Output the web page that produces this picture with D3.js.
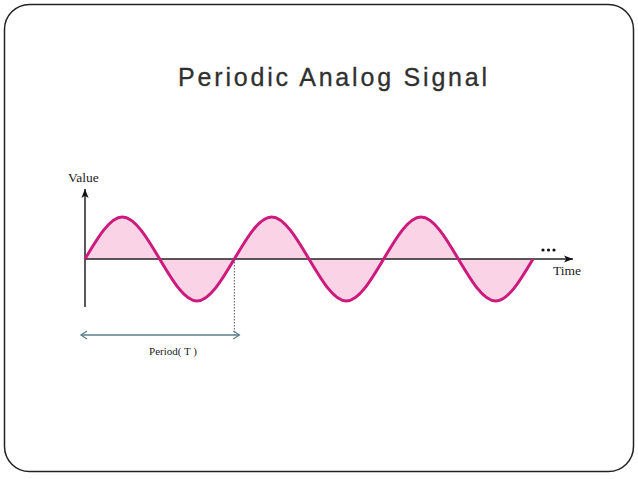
<!DOCTYPE html>
<html>
<head>
<meta charset="utf-8">
<script src="https://cdn.jsdelivr.net/npm/d3@7"></script>
<style>
  html, body { margin: 0; padding: 0; background: #fff; }
  svg { display: block; }
</style>
</head>
<body>
<svg width="638" height="479"></svg>
<script>
// signal sampled every quarter period (t in units of T/4)
var quarterTimes = [0, 1, 2, 3, 4, 5, 6, 7, 8, 9, 10, 11, 12];
var signalValues = [0, 1, 0, -1, 0, 1, 0, -1, 0, 1, 0, -1, 0];
var titleText = "Periodic Analog Signal";
var axisLabels = ["Value", "Time"];
var periodLabel = "Period( T )";

var svg = d3.select("svg"),
    width = +svg.attr("width"),
    height = +svg.attr("height");

// slide frame
svg.append("rect")
    .attr("x", 4.5).attr("y", 4.5)
    .attr("width", 629).attr("height", 467)
    .attr("rx", 25).attr("ry", 25)
    .attr("fill", "#fff")
    .attr("stroke", "#222")
    .attr("stroke-width", 1.5);

svg.append("text")
    .attr("x", 334).attr("y", 86)
    .attr("text-anchor", "middle")
    .attr("font-family", "'Liberation Sans', Arial, sans-serif")
    .attr("font-size", 25)
    .attr("letter-spacing", "2.8px")
    .attr("fill", "#303030")
    .attr("stroke", "#303030")
    .attr("stroke-width", 0.3)
    .text(titleText);

var x = d3.scaleLinear().domain([0, 12]).range([85, 533]);
var y = d3.scaleLinear().domain([-1, 1]).range([301, 217]);

var defs = svg.append("defs");
defs.append("marker")
    .attr("id", "arrow")
    .attr("viewBox", "0 0 10 10")
    .attr("refX", 10).attr("refY", 5)
    .attr("markerWidth", 9).attr("markerHeight", 9)
    .attr("markerUnits", "userSpaceOnUse")
    .attr("orient", "auto")
    .append("path")
    .attr("d", "M0,1 L10,5 L0,9 L2.5,5 Z")
    .attr("fill", "#111");

var pts = quarterTimes.map(function (t, i) { return [t, signalValues[i]]; });

// pink fill between curve and the time axis
var area = d3.area()
    .x(function (d) { return x(d[0]); })
    .y0(y(0))
    .y1(function (d) { return y(d[1]); })
    .curve(d3.curveNatural);

svg.append("path")
    .datum(pts)
    .attr("d", area)
    .attr("fill", "#fbd3e6");

// axes
svg.append("line")
    .attr("x1", x(0)).attr("y1", 307)
    .attr("x2", x(0)).attr("y2", 189)
    .attr("stroke", "#222").attr("stroke-width", 1.5)
    .attr("marker-end", "url(#arrow)");

svg.append("line")
    .attr("x1", x(0)).attr("y1", y(0))
    .attr("x2", 573).attr("y2", y(0))
    .attr("stroke", "#222").attr("stroke-width", 1.5)
    .attr("marker-end", "url(#arrow)");

var line = d3.line()
    .x(function (d) { return x(d[0]); })
    .y(function (d) { return y(d[1]); })
    .curve(d3.curveNatural);

svg.append("path")
    .datum(pts)
    .attr("d", line)
    .attr("fill", "none")
    .attr("stroke", "#cc1a7d")
    .attr("stroke-width", 3);

// axis labels
svg.append("text")
    .attr("x", 68).attr("y", 182)
    .attr("font-family", "'Liberation Serif', 'Times New Roman', serif")
    .attr("font-size", 13.5)
    .attr("fill", "#222")
    .text(axisLabels[0]);

svg.append("text")
    .attr("x", 553).attr("y", 275)
    .attr("font-family", "'Liberation Serif', 'Times New Roman', serif")
    .attr("font-size", 13.5)
    .attr("fill", "#222")
    .text(axisLabels[1]);

// continuation dots
svg.selectAll("circle.dot")
    .data([0, 1, 2])
    .enter().append("circle")
    .attr("class", "dot")
    .attr("cx", function (d) { return 543 + d * 5.5; })
    .attr("cy", 250)
    .attr("r", 1.6)
    .attr("fill", "#111");

// period marker
svg.append("line")
    .attr("x1", x(4)).attr("y1", y(0))
    .attr("x2", x(4)).attr("y2", 335)
    .attr("stroke", "#555")
    .attr("stroke-width", 1)
    .attr("stroke-dasharray", "1.5,1.5");

svg.append("line")
    .attr("x1", 81).attr("y1", 335)
    .attr("x2", x(4) + 5).attr("y2", 335)
    .attr("stroke", "#5c7f8c").attr("stroke-width", 1.3);

var chev = [[81, 0], [x(4) + 5, 1]];
svg.selectAll("path.chev")
    .data(chev)
    .enter().append("path")
    .attr("class", "chev")
    .attr("d", function (d) {
        var s = d[1] ? -1 : 1;
        return "M" + (d[0] + s * 6) + "," + (335 - 4) + " L" + d[0] + ",335 L" + (d[0] + s * 6) + "," + (335 + 4);
    })
    .attr("fill", "none")
    .attr("stroke", "#5c7f8c").attr("stroke-width", 1.3);

svg.append("text")
    .attr("x", 173).attr("y", 355)
    .attr("text-anchor", "middle")
    .attr("font-family", "'Liberation Serif', 'Times New Roman', serif")
    .attr("font-size", 11)
    .attr("fill", "#222")
    .text(periodLabel);
</script>
</body>
</html>
